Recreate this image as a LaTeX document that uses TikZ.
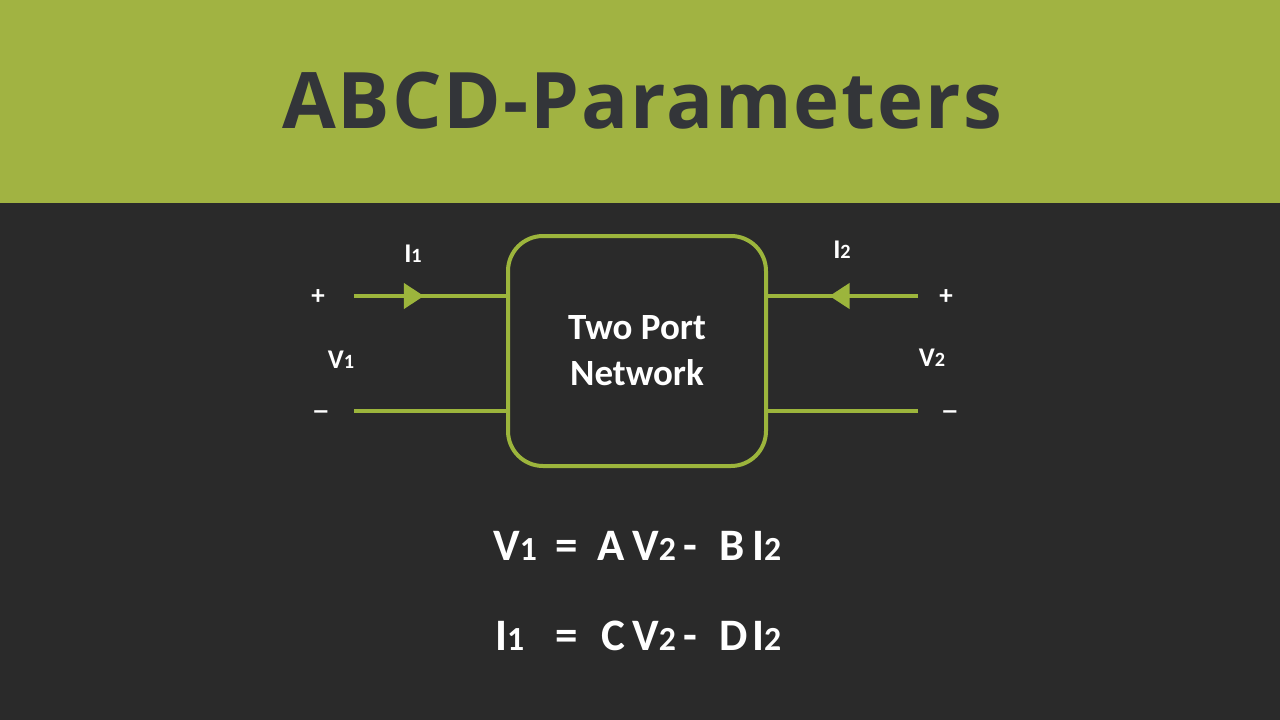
\documentclass[tikz,border=0pt]{standalone}
\usepackage{fontspec}
\setmainfont{Carlito}
\newfontfamily\titlefont[LetterSpace=2.5]{Open Sans}
\newfontfamily\symfont{DejaVu Sans}
\usetikzlibrary{arrows.meta,decorations.markings}
\definecolor{band}{RGB}{161,179,66}
\definecolor{bg}{RGB}{42,42,42}
\definecolor{wire}{RGB}{156,181,60}
\definecolor{titletext}{RGB}{51,53,57}
\newcommand{\sbs}[1]{{\fontsize{0.75em}{1em}\selectfont #1}}
\newcommand{\at}[2]{\rlap{\hspace*{#1}#2}}
\tikzset{
  wirestyle/.style={draw=wire, line width=4pt},
  netbox/.style={wirestyle, rounded corners=35pt, minimum width=258pt, minimum height=230pt, inner sep=0pt, align=center, text=white, font=\bfseries\fontsize{37}{46}\selectfont},
  lab/.style={text=white, font=\bfseries\fontsize{27}{32}\selectfont, inner sep=0pt},
  minuslab/.style={text=white, font=\symfont\bfseries\fontsize{21}{25}\selectfont, inner sep=0pt, anchor=base},
  eqn/.style={text=white, font=\bfseries\fontsize{45}{54}\selectfont, inner sep=0pt, anchor=base west},
  fwd/.style={postaction={decorate}, decoration={markings, mark=at position #1 with {\arrow{Triangle[length=20pt,width=25pt]}}}},
}
\begin{document}
\begin{tikzpicture}[x=1pt,y=-1pt]
\useasboundingbox (0,0) rectangle (1280,720);
\fill[bg] (0,0) rectangle (1280,720);
\fill[band] (0,0) rectangle (1280,203);
\node[anchor=base, inner sep=0pt, text=titletext, font=\titlefont\bfseries\fontsize{78}{90}\selectfont] (title) at (642,128) {ABCD-Parameters};
\node[netbox] (box) at (637,351) {Two Port\\Network};
\coordinate (p1) at (354,296);
\coordinate (n1) at (354,411);
\coordinate (p2) at (918,296);
\coordinate (n2) at (918,411);
\draw[wirestyle, fwd=0.46] (p1) -- (box.west |- p1);
\draw[wirestyle] (n1) -- (box.west |- n1);
\draw[wirestyle, fwd=0.59] (p2) -- (box.east |- p2);
\draw[wirestyle] (n2) -- (box.east |- n2);
\node[lab] (plus1) at (318,297) {+};
\node[minuslab] (minus1) at (321,418) {−};
\node[lab] (v1) at (341,360) {V\sbs{1}};
\node[lab] (i1) at (413,254) {I\sbs{1}};
\node[lab] (plus2) at (946,297) {+};
\node[minuslab] (minus2) at (950,418) {−};
\node[lab] (v2) at (932,358) {V\sbs{2}};
\node[lab] (i2) at (842,250) {I\sbs{2}};
\node[eqn] (eq1) at (493,560) {\at{0pt}{V\sbs{1}}\at{62pt}{=}\at{104pt}{A}\at{139pt}{V\sbs{2}\,-}\at{226pt}{B}\at{259pt}{I\sbs{2}}\hspace*{285pt}};
\node[eqn] (eq2) at (495,650) {\at{0pt}{I\sbs{1}}\at{60pt}{=}\at{106pt}{C}\at{137pt}{V\sbs{2}\,-}\at{224pt}{D}\at{257pt}{I\sbs{2}}\hspace*{283pt}};
\end{tikzpicture}
\end{document}
